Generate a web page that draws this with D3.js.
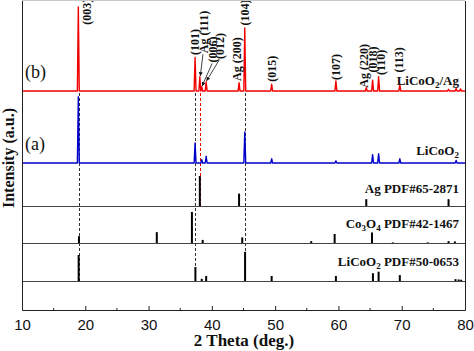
<!DOCTYPE html>
<html>
<head>
<meta charset="utf-8">
<script src="https://cdn.jsdelivr.net/npm/d3@7/dist/d3.min.js"></script>
<style>
  body { margin: 0; background: #fff; }
  svg { display: block; }
</style>
</head>
<body>
<script>
// measured XRD patterns, [2theta, intensity (a.u.)]
const patternAg = [
  [18.9, 100], [37.35, 40], [38.1, 17], [38.4, 5], [39.1, 11],
  [44.3, 10], [45.2, 75], [49.45, 8], [59.6, 12], [64.4, 4],
  [65.4, 13], [66.35, 17], [69.7, 8], [77.4, 2], [78.6, 3], [79.3, 2.5]
];
const patternPure = [
  [18.9, 79], [37.35, 24], [38.4, 4], [39.1, 8], [45.2, 37],
  [49.45, 5], [59.6, 2.5], [65.4, 10], [66.35, 11], [69.7, 5], [78.6, 3]
];

// standard cards, [2theta, relative intensity]
const stickAg = [[38.1, 97], [44.3, 40], [64.4, 22], [77.4, 22]];
const stickCo3O4 = [
  [19.0, 22], [31.3, 35], [36.85, 100], [38.55, 10], [44.8, 18],
  [55.7, 6], [59.4, 29], [65.3, 34], [68.6, 2], [74.1, 2], [77.4, 6], [78.4, 5]
];
const stickLiCoO2 = [
  [18.95, 84], [37.4, 45], [38.4, 7], [39.1, 16], [45.25, 94],
  [49.45, 16], [59.6, 16], [65.45, 25], [66.35, 30], [69.7, 19],
  [78.5, 6], [79.0, 5], [79.4, 4]
];

const majorTicks = [10, 20, 30, 40, 50, 60, 70, 80];
const minorTicks = [15, 25, 35, 45, 55, 65, 75];

// peak labels on pattern (b): label column position, label foot level, arrow target
const peakLabels = [
  { text: '(003)', theta: 20.3, level: 79 },
  { text: '(101)', theta: 37.4, level: 43 },
  { text: 'Ag (111)', theta: 38.75, level: 45, target: 38.1 },
  { text: '(006)', theta: 40.2, level: 34, target: 38.4 },
  { text: '(012)', theta: 41.3, level: 38, target: 39.1 },
  { text: 'Ag (200)', theta: 43.95, level: 12 },
  { text: '(104)', theta: 45.25, level: 78 },
  { text: '(015)', theta: 49.5, level: 11 },
  { text: '(107)', theta: 59.6, level: 13 },
  { text: 'Ag (220)', theta: 64.0, level: 4 },
  { text: '(018)', theta: 65.4, level: 22 },
  { text: '(110)', theta: 66.75, level: 19 },
  { text: '(113)', theta: 69.55, level: 22 }
];

const guideLines = [18.95, 37.4, 45.2];
const agGuide = 38.1;

const dimensions = {
  width: 474,
  height: 351,
  margin: { top: 1, right: 9, bottom: 41, left: 22 },
};
dimensions.boundedWidth =
  dimensions.width - (dimensions.margin.left + dimensions.margin.right);
dimensions.boundedHeight =
  dimensions.height - (dimensions.margin.top + dimensions.margin.bottom);

// baselines inside the bounded area
const base = {
  b: 90,
  a: 162,
  ag: 205,
  co: 242,
  lco: 280,
};

const serif = '"Liberation Serif", "Times New Roman", serif';
const sans = '"Liberation Sans", Arial, sans-serif';
const red = '#f20000';
const blue = '#0000cc';

const xScale = d3.scaleLinear().domain([10, 80]).range([0, dimensions.boundedWidth]);
const traceScale = d3.scaleLinear().domain([0, 100]).range([0, 84]);
const stickScale = d3.scaleLinear().domain([0, 100]).range([0, 31]);

const svg = d3
  .select('body')
  .append('svg')
  .attr('width', dimensions.width)
  .attr('height', dimensions.height)
  .attr('viewBox', [0, 0, dimensions.width, dimensions.height]);

const viz = svg
  .append('g')
  .attr('transform', `translate(${dimensions.margin.left} ${dimensions.margin.top})`);

svg
  .append('defs')
  .append('marker')
  .attr('id', 'arrow')
  .attr('viewBox', '0 0 10 10')
  .attr('refX', 9)
  .attr('refY', 5)
  .attr('markerWidth', 5)
  .attr('markerHeight', 5)
  .attr('orient', 'auto')
  .append('path')
  .attr('d', 'M0 0 L10 5 L0 10 z')
  .attr('fill', '#111');

// panel separators
viz
  .append('g')
  .selectAll('line')
  .data([base.ag, base.co, base.lco])
  .join('line')
  .attr('x1', 0)
  .attr('x2', dimensions.boundedWidth)
  .attr('y1', d => d + 0.5)
  .attr('y2', d => d + 0.5)
  .attr('stroke', '#444')
  .attr('stroke-width', 1);

// dashed guides
viz
  .append('g')
  .selectAll('line')
  .data(guideLines)
  .join('line')
  .attr('x1', d => Math.round(xScale(d)) + 0.5)
  .attr('x2', d => Math.round(xScale(d)) + 0.5)
  .attr('y1', base.b + 2)
  .attr('y2', base.lco)
  .attr('stroke', '#333')
  .attr('stroke-width', 1)
  .attr('stroke-dasharray', '3 2');

viz
  .append('line')
  .attr('x1', Math.round(xScale(agGuide)) + 0.5)
  .attr('x2', Math.round(xScale(agGuide)) + 0.5)
  .attr('y1', base.b + 2)
  .attr('y2', base.ag)
  .attr('stroke', red)
  .attr('stroke-width', 1)
  .attr('stroke-dasharray', '3 2');

// patterns
const halfWidth = 0.15;
function tracePoints(peaks) {
  const pts = [[10, 0]];
  peaks.forEach(([p, v]) => {
    pts.push([p - halfWidth, 0], [p, v], [p + halfWidth, 0]);
  });
  pts.push([80, 0]);
  return pts;
}

function drawTrace(peaks, baseline, color) {
  const line = d3
    .line()
    .x(d => xScale(d[0]))
    .y(d => baseline - traceScale(d[1]));
  viz
    .append('path')
    .datum(tracePoints(peaks))
    .attr('fill', 'none')
    .attr('stroke', color)
    .attr('stroke-width', 1.4)
    .attr('stroke-linejoin', 'round')
    .attr('d', line);
}

drawTrace(patternAg, base.b, red);
drawTrace(patternPure, base.a, blue);

// stick patterns
function drawSticks(sticks, baseline) {
  viz
    .append('g')
    .selectAll('line')
    .data(sticks)
    .join('line')
    .attr('x1', d => xScale(d[0]))
    .attr('x2', d => xScale(d[0]))
    .attr('y1', baseline)
    .attr('y2', d => baseline - stickScale(d[1]))
    .attr('stroke', '#000')
    .attr('stroke-width', 2);
}

drawSticks(stickAg, base.ag);
drawSticks(stickCo3O4, base.co);
drawSticks(stickLiCoO2, base.lco);

// peak labels
const labelGroup = viz
  .append('g')
  .attr('font-family', serif)
  .attr('font-weight', 'bold')
  .attr('font-size', 12)
  .attr('fill', '#111');

labelGroup
  .selectAll('text')
  .data(peakLabels)
  .join('text')
  .attr(
    'transform',
    d => `translate(${xScale(d.theta)} ${base.b - traceScale(d.level)}) rotate(-90)`
  )
  .attr('dy', '0.33em')
  .text(d => d.text);

const peakValue = new Map(patternAg);
viz
  .append('g')
  .selectAll('line')
  .data(peakLabels.filter(d => d.target))
  .join('line')
  .attr('x1', d => xScale(d.theta) - 1)
  .attr('y1', d => base.b - traceScale(d.level) + 1)
  .attr('x2', d => xScale(d.target) + 0.5)
  .attr('y2', d => base.b - traceScale(peakValue.get(d.target)) - 1)
  .attr('stroke', '#111')
  .attr('stroke-width', 0.8)
  .attr('marker-end', 'url(#arrow)');

// sample and card names
const nameGroup = viz
  .append('g')
  .attr('font-family', serif)
  .attr('font-weight', 'bold')
  .attr('font-size', 13)
  .attr('fill', '#111')
  .attr('text-anchor', 'end');

function sampleName(parts, y) {
  const t = nameGroup
    .append('text')
    .attr('x', dimensions.boundedWidth - 6)
    .attr('y', y);
  let shifted = false;
  parts.forEach(([s, sub]) => {
    const span = t.append('tspan').text(s);
    if (sub) {
      span.attr('font-size', 9).attr('dy', 3);
      shifted = true;
    } else if (shifted) {
      span.attr('dy', -3);
      shifted = false;
    }
  });
}

sampleName([['LiCoO'], ['2', true], ['/Ag']], base.b - 6);
sampleName([['LiCoO'], ['2', true]], base.a - 8);
sampleName([['Ag PDF#65-2871']], base.ag - 13);
sampleName([['Co'], ['3', true], ['O'], ['4', true], [' PDF#42-1467']], base.co - 15);
sampleName([['LiCoO'], ['2', true], [' PDF#50-0653']], base.lco - 15);

viz
  .append('g')
  .attr('font-family', serif)
  .attr('font-size', 18)
  .attr('fill', '#111')
  .selectAll('text')
  .data([['(b)', base.b - 13], ['(a)', base.a - 13]])
  .join('text')
  .attr('x', 3)
  .attr('y', d => d[1])
  .text(d => d[0]);

// axes
const xAxis = d3
  .axisBottom(xScale)
  .tickValues(majorTicks)
  .tickSizeInner(-4)
  .tickSizeOuter(0)
  .tickPadding(9)
  .tickFormat(d3.format('d'));

const xAxisGroup = viz
  .append('g')
  .attr('transform', `translate(0 ${dimensions.boundedHeight})`)
  .call(xAxis);

xAxisGroup.select('.domain').remove();
xAxisGroup
  .selectAll('text')
  .attr('font-family', sans)
  .attr('font-size', 15)
  .attr('fill', '#111');
xAxisGroup.selectAll('line').attr('stroke', '#222');

viz
  .append('g')
  .selectAll('line')
  .data(minorTicks)
  .join('line')
  .attr('x1', d => xScale(d))
  .attr('x2', d => xScale(d))
  .attr('y1', dimensions.boundedHeight)
  .attr('y2', dimensions.boundedHeight - 2)
  .attr('stroke', '#222');

// frame
viz
  .append('path')
  .attr('fill', 'none')
  .attr('stroke', '#222')
  .attr('stroke-width', 1)
  .attr(
    'd',
    `M0.5 0 V${dimensions.boundedHeight + 0.5} H${dimensions.boundedWidth + 0.5} V0`
  );
viz
  .append('line')
  .attr('x1', 0)
  .attr('x2', dimensions.boundedWidth)
  .attr('y1', -0.5)
  .attr('y2', -0.5)
  .attr('stroke', '#c8c8c8');

// axis titles
svg
  .append('text')
  .attr('x', 244)
  .attr('y', 346)
  .attr('text-anchor', 'middle')
  .attr('font-family', serif)
  .attr('font-weight', 'bold')
  .attr('font-size', 17)
  .attr('fill', '#111')
  .text('2 Theta (deg.)');

svg
  .append('text')
  .attr('transform', 'translate(14 158) rotate(-90)')
  .attr('text-anchor', 'middle')
  .attr('font-family', serif)
  .attr('font-weight', 'bold')
  .attr('font-size', 16)
  .attr('fill', '#111')
  .text('Intensity (a.u.)');
</script>
</body>
</html>
